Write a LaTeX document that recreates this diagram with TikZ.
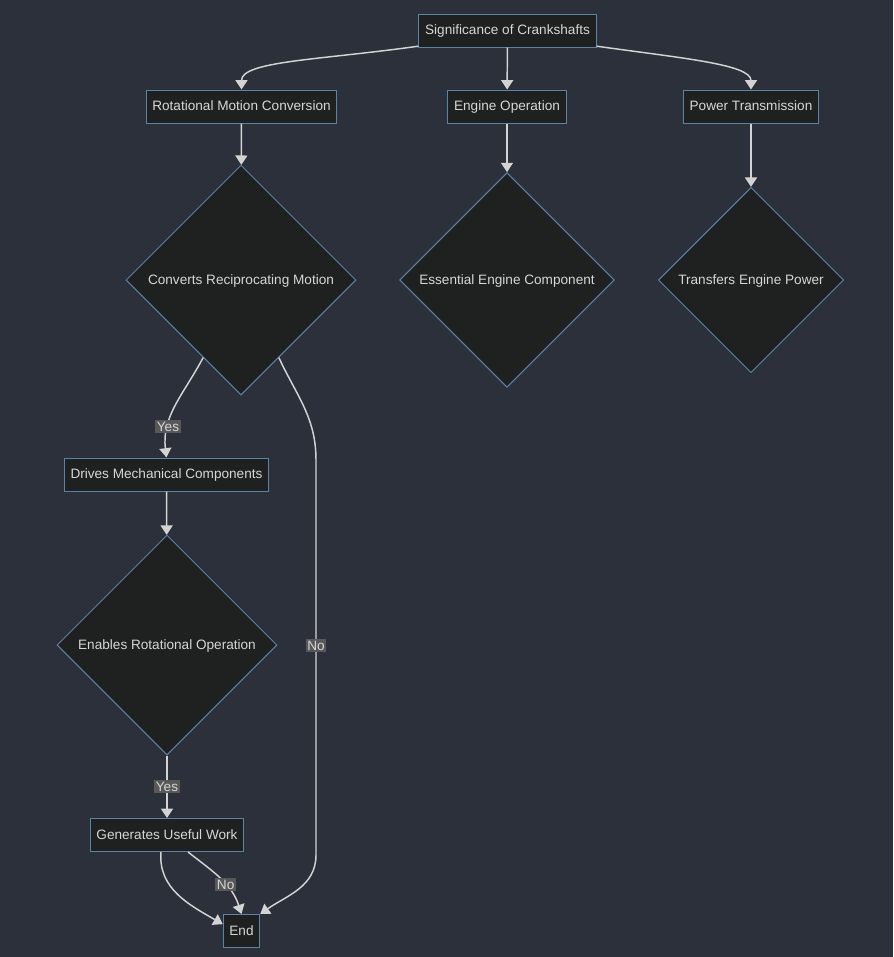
\documentclass[tikz,border=0pt]{standalone}
\usepackage{fontspec}
\setmainfont{Liberation Sans}
\usetikzlibrary{arrows.meta,shapes.geometric}
\definecolor{bgcol}{HTML}{2B303B}
\definecolor{nodefill}{HTML}{1F2020}
\definecolor{nodeline}{HTML}{5E82A6}
\definecolor{txtcol}{HTML}{D6D6D6}
\definecolor{edgecol}{HTML}{D3D3D3}
\definecolor{lblfill}{HTML}{585858}

\begin{document}
\begin{tikzpicture}[x=0.75pt,y=0.75pt,font=\fontsize{10.2}{12}\selectfont,
  box/.style={draw=nodeline,fill=nodefill,text=txtcol,line width=0.75pt,minimum height=24.75pt,inner xsep=4.6pt,text height=7.8pt,text depth=1.6pt},
  dia/.style={diamond,aspect=1,draw=nodeline,fill=nodefill,text=txtcol,line width=0.75pt,inner sep=0pt,minimum size=#1,text height=7.8pt,text depth=1.6pt},
  edge/.style={draw=edgecol,line width=1.1pt,-{Triangle[length=7pt,width=9pt]}},
  lbl/.style={fill=lblfill,text=txtcol,inner sep=1.2pt}]
\fill[bgcol] (0,0) rectangle (893,-957);
% top row
\node[box] (sig) at (507.5,-30.5) {Significance of Crankshafts};
\node[box] (rmc) at (241.5,-106.5) {Rotational Motion Conversion};
\node[box] (eop) at (507,-106.5) {Engine Operation};
\node[box] (ptr) at (751,-106.5) {Power Transmission};
% decisions
\node[dia={172.5pt}] (crm) at (241,-280) {Converts Reciprocating Motion};
\node[dia={161pt}] (eec) at (507,-280) {Essential Engine Component};
\node[dia={139pt}] (tep) at (751,-280) {Transfers Engine Power};
\node[box] (dmc) at (166.5,-474.5) {Drives Mechanical Components};
\node[dia={165pt}] (ero) at (167,-645) {Enables Rotational Operation};
\node[box] (guw) at (167,-835) {Generates Useful Work};
\node[box] (end) at (241.5,-931) {End};
\coordinate (noup) at (316,-460);
\coordinate (nodown) at (316,-855);
% connectors
\draw[edge] ([yshift=1pt]sig.south west) to[out=188,in=90,out looseness=1.4,in looseness=0.4] (rmc.north);
\draw[edge] (sig) -- (eop);
\draw[edge] ([yshift=1pt]sig.south east) to[out=-8,in=90,out looseness=1.4,in looseness=0.4] (ptr.north);
\draw[edge] (rmc) -- (crm);
\draw[edge] (eop) -- (eec);
\draw[edge] (ptr) -- (tep);
\draw[edge] (crm.244) to[out=242,in=97] node[lbl,pos=0.72]{Yes} (dmc.north);
\draw[edge] (crm.296) to[out=-65,in=90] (noup) -- node[lbl,pos=0.47]{No} (nodown) to[out=-90,in=35] (end.north east);
\draw[edge] (dmc) -- (ero);
\draw[edge] (ero) -- node[lbl]{Yes} (guw);
\draw[edge] ([xshift=-4.5pt]guw.south) to[out=-95,in=150] (end.160);
\draw[edge] ([xshift=15.75pt]guw.south) to[out=-38,in=108] node[lbl,pos=0.6]{No} (end.north);
\end{tikzpicture}
\end{document}
